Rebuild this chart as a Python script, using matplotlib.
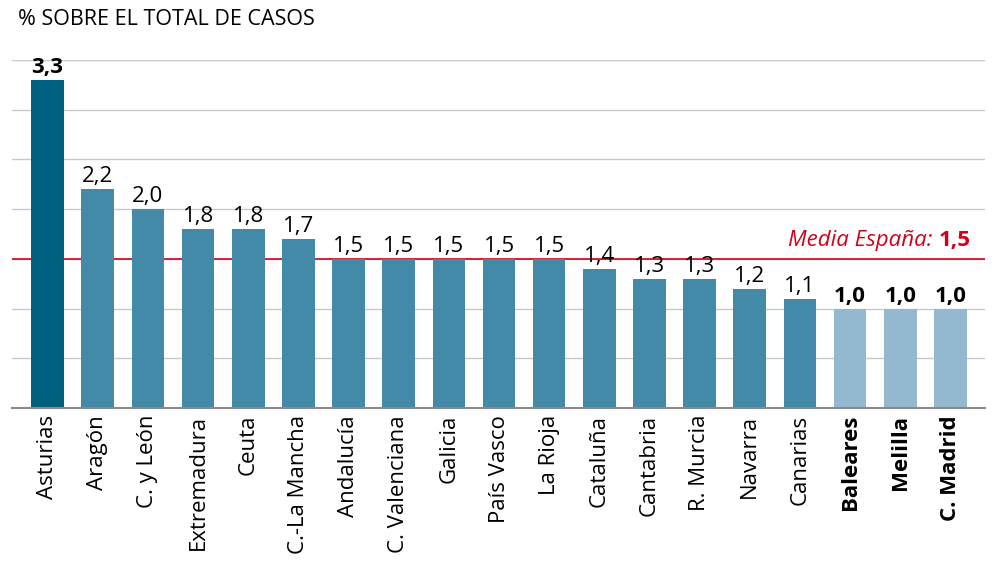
import numpy as np
import matplotlib.pyplot as plt

regiones = ["Asturias", "Aragón", "C. y León", "Extremadura", "Ceuta", "C.-La Mancha",
            "Andalucía", "C. Valenciana", "Galicia", "País Vasco", "La Rioja", "Cataluña",
            "Cantabria", "R. Murcia", "Navarra", "Canarias", "Baleares", "Melilla", "C. Madrid"]
porcentajes = [3.3, 2.2, 2.0, 1.8, 1.8, 1.7, 1.5, 1.5, 1.5, 1.5, 1.5, 1.4,
               1.3, 1.3, 1.2, 1.1, 1.0, 1.0, 1.0]
media = 1.5

plt.rcParams['font.family'] = ['Open Sans', 'DejaVu Sans']

fig = plt.figure(figsize=(10, 5.67), dpi=100)
ax = fig.add_axes([0.012, 1 - 408 / 567, 0.973, (408 - 60) / 567])

n = len(regiones)
x = np.arange(n)
colores = []
for i, v in enumerate(porcentajes):
    if i == 0:
        colores.append("#00617f")
    elif v < 1.1:
        colores.append("#94b8cf")
    else:
        colores.append("#4389a8")

ax.bar(x, porcentajes, width=0.65, color=colores, zorder=3)
ax.set_xlim(-0.71, n - 1 + 0.69)
ax.set_ylim(0, 3.5)
ax.set_yticks(np.arange(0.5, 3.6, 0.5))
ax.yaxis.grid(True, color="#c8c8c8", lw=1)
ax.set_axisbelow(True)
ax.tick_params(left=False, labelleft=False, bottom=False, labelbottom=False)
for s in ["left", "right", "top"]:
    ax.spines[s].set_visible(False)
ax.spines["bottom"].set_color("#8a8a8a")
ax.spines["bottom"].set_linewidth(1.5)
ax.spines["bottom"].set_zorder(4)

ax.axhline(media, color="#d0021b", lw=1.2, zorder=2)

for i, (r, v) in enumerate(zip(regiones, porcentajes)):
    negrita = i == 0 or v < 1.1
    ax.text(i, v + 0.02, f"{v:.1f}".replace(".", ","), ha="center", va="bottom",
            fontsize=16, fontweight="bold" if negrita else "normal", color="black")
    ax.text(i, -0.07, r, rotation=90, ha="center", va="top", fontsize=16,
            fontweight="bold" if v < 1.1 else "normal")

t = ax.text(0.985, media + 0.08, f"{media:.1f}".replace(".", ","),
            transform=ax.get_yaxis_transform(), ha="right", va="bottom",
            fontsize=16, fontweight="bold", color="#d0021b")
ax.annotate("Media España: ", xy=(0, 0), xycoords=t, ha="right", va="bottom",
            fontsize=16, style="italic", color="#d0021b")
fig.text(0.018, 0.965, "% SOBRE EL TOTAL DE CASOS", ha="left", va="center", fontsize=15.5)

fig.savefig("out.png", dpi=100)
